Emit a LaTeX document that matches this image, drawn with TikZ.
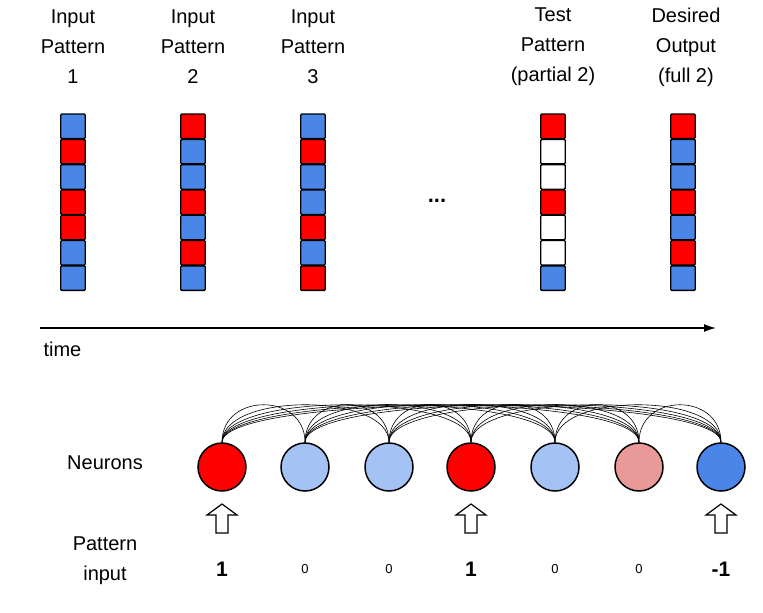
\documentclass[tikz,border=0pt]{standalone}
\usepackage{fontspec}
\setmainfont{Liberation Sans}
\usetikzlibrary{arrows.meta}
\begin{document}
\begin{tikzpicture}[x=1pt,y=-1pt,
  cell/.style={draw=black,line width=1.3pt,minimum size=24.5pt,inner sep=0pt,rounded corners=1pt},
  neuron/.style={circle,draw=black,line width=1.5pt,minimum size=48pt,inner sep=0pt},
  lbl/.style={font=\fontsize{20}{30}\selectfont,align=center},
  link/.style={line width=0.6pt},
  hin/.style={draw=black,line width=1.2pt,fill=white}]
\definecolor{B}{HTML}{4A86E8}\definecolor{R}{HTML}{FF0000}
\definecolor{W}{HTML}{FFFFFF}\definecolor{LB}{HTML}{A4C2F4}\definecolor{P}{HTML}{EA9999}
\useasboundingbox (0,0) rectangle (763,613);
% columns
\foreach \x/\cols [count=\c] in {73/{B,R,B,R,R,B,B},193/{R,B,B,R,B,R,B},313/{B,R,B,B,R,B,R},553/{R,W,W,R,W,W,B},683/{R,B,B,R,B,R,B}}{
  \foreach \col [count=\i] in \cols {
    \node[cell,fill=\col] (c\c-\i) at (\x,101+25.3*\i) {};
  }
}
\node[lbl] (t1) at (73,47) {Input\\Pattern\\1};
\node[lbl] (t2) at (193,47) {Input\\Pattern\\2};
\node[lbl] (t3) at (313,47) {Input\\Pattern\\3};
\node[lbl] (t4) at (553,47) {Test\\Pattern\\(partial 2)};
\node[lbl] (t5) at (686,47) {Desired\\Output\\(full 2)};
\node[font=\fontsize{22}{24}\bfseries] (dots) at (437,201) {...};
% time
\coordinate (ts) at (40,328); \coordinate (te) at (716,328);
\draw[line width=1.5pt,-{Latex[length=12pt,width=8pt]}] (ts) -- (te);
\node[lbl,anchor=west] (time) at (40,349) {time};
% neurons
\node[lbl] (nl) at (105,463) {Neurons};
\node[lbl] (pl) at (105,561) {Pattern\\input};
\foreach \x/\f [count=\i] in {222/R,305/LB,389/LB,471/R,555/LB,639/P,721/B}{
  \node[neuron,fill=\f] (n\i) at (\x,467) {};
}
\foreach \i in {1,...,7}{
  \foreach \j in {1,...,7}{
    \ifnum\i<\j
      \draw[link] (n\i.north) .. controls ([yshift=50]n\i.north) and ([yshift=50]n\j.north) .. (n\j.north);
    \fi
  }
}
% input arrows and values
\foreach \i/\v/\b in {1/1/1,2/0/0,3/0/0,4/1/1,5/0/0,6/0/0,7/-1/1}{
  \ifnum\b=1
    \node[font=\fontsize{21}{24}\bfseries] (v\i) at (n\i |- 0,569) {\v};
    \draw[hin] ([xshift=-6,yshift=-48]n\i.center) -- ([xshift=-6,yshift=-66]n\i.center) -- ([xshift=6,yshift=-66]n\i.center) -- ([xshift=6,yshift=-48]n\i.center) -- ([xshift=15,yshift=-48]n\i.center) -- ([yshift=-37]n\i.center) -- ([xshift=-15,yshift=-48]n\i.center) -- cycle;
  \else
    \node[font=\fontsize{13}{16}\selectfont] (v\i) at (n\i |- 0,569) {\v};
  \fi
}
\end{tikzpicture}
\end{document}
